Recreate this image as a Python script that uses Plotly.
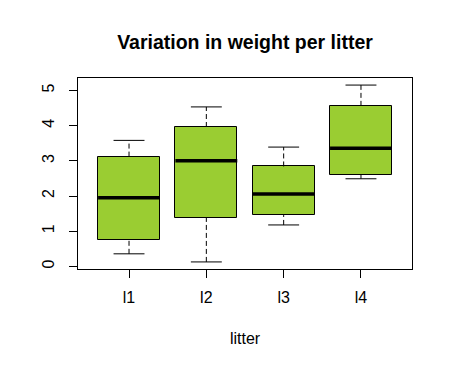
import plotly.graph_objects as go

categories = ["l1", "l2", "l3", "l4"]
lower = [0.36, 0.13, 1.18, 2.49]
q1 = [0.76, 1.38, 1.46, 2.60]
median = [1.95, 3.00, 2.06, 3.36]
q3 = [3.12, 3.96, 2.84, 4.56]
upper = [3.58, 4.53, 3.39, 5.15]
y_ticks = [0, 1, 2, 3, 4, 5]

FILL = "#9ACD32"
FONT = "Liberation Sans, Arial, sans-serif"
BOXW = 0.8
CAPW = 0.4

xs = list(range(1, len(categories) + 1))

fig = go.Figure()

# dashed whiskers
wx, wy = [], []
for x, lo, a, b, hi in zip(xs, lower, q1, q3, upper):
    wx += [x, x, None, x, x, None]
    wy += [lo, a, None, b, hi, None]
fig.add_trace(go.Scatter(x=wx, y=wy, mode="lines",
                         line=dict(color="black", width=1, dash="5px,3px"),
                         hoverinfo="skip", showlegend=False))
# caps
cx, cy = [], []
for x, lo, hi in zip(xs, lower, upper):
    cx += [x - CAPW / 2, x + CAPW / 2, None, x - CAPW / 2, x + CAPW / 2, None]
    cy += [lo, lo, None, hi, hi, None]
fig.add_trace(go.Scatter(x=cx, y=cy, mode="lines",
                         line=dict(color="black", width=1),
                         hoverinfo="skip", showlegend=False))
# boxes
fig.add_trace(go.Bar(x=xs, y=[b - a for a, b in zip(q1, q3)], base=q1,
                     width=BOXW, marker=dict(color=FILL, line=dict(color="black", width=1)),
                     showlegend=False))
# medians
mx, my = [], []
for x, m in zip(xs, median):
    mx += [x - BOXW / 2, x + BOXW / 2, None]
    my += [m, m, None]
fig.add_trace(go.Scatter(x=mx, y=my, mode="lines",
                         line=dict(color="black", width=3.5),
                         hoverinfo="skip", showlegend=False))

lo_all, hi_all = min(lower), max(upper)
pad = (hi_all - lo_all) * 0.04
n = len(categories)
xpad = n * 0.04

W, H = 445, 359  # page body has an 8px margin
fig.update_layout(
    width=W, height=H,
    margin=dict(l=70, r=41, t=70, b=98),
    plot_bgcolor="white", paper_bgcolor="white",
    font=dict(family=FONT, size=16, color="black"),
    title=dict(text="<b>Variation in weight per litter</b>", x=237 / W, xanchor="center",
               y=1 - 34 / H, yanchor="middle", font=dict(size=19.5, family=FONT, color="black")),
    xaxis=dict(range=[0.5 - xpad, n + 0.5 + xpad], tickvals=xs, ticktext=categories,
               ticks="outside", ticklen=8, tickcolor="black", showline=True, mirror=True,
               linecolor="black", linewidth=1, showgrid=False, zeroline=False,
               title=dict(text="litter", font=dict(size=16), standoff=27), ticklabelstandoff=6),
    yaxis=dict(range=[lo_all - pad, hi_all + pad], tickvals=y_ticks, tickangle=-90,
               ticks="outside", ticklen=8, tickcolor="black", showline=True, mirror=True,
               linecolor="black", linewidth=1, showgrid=False, zeroline=False,
               ticklabelstandoff=9),
    bargap=0,
)

fig.write_html("out.html")
